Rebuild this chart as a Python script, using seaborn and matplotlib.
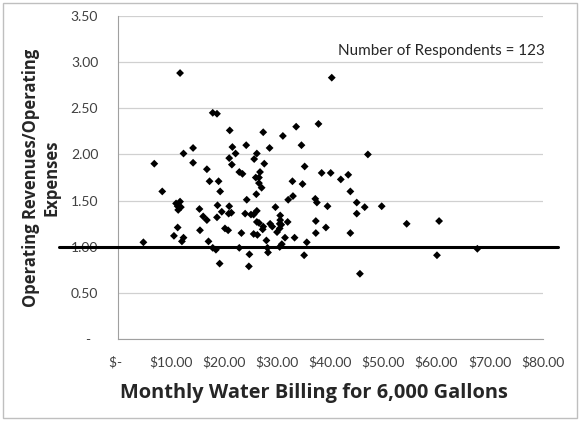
import pandas as pd
import matplotlib
matplotlib.use("Agg")
import matplotlib.pyplot as plt
import seaborn as sns

# monthly bill for 6,000 gallons ($) and operating revenue / operating expense ratio
billing = [4.85, 6.9, 8.4, 10.6, 11.0, 11.75, 11.3, 11.9, 11.4, 11.3,
           12.4, 12.1, 11.75, 12.4, 14.2, 14.2, 15.4, 15.5, 16.1, 16.8,
           17.1, 16.8, 17.3, 17.9, 18.7, 19.0, 19.3, 18.8, 19.6, 18.7,
           17.9, 18.5, 19.2, 20.2, 20.8, 20.9, 21.4, 21.0, 21.1, 21.6,
           21.0, 21.5, 22.2, 22.9, 23.5, 24.2, 25.7, 26.2, 26.8, 26.0,
           26.6, 26.6, 27.1, 26.1, 27.4, 27.6, 28.6, 24.3, 22.9, 23.3,
           24.0, 25.1, 25.6, 26.2, 24.8, 24.7, 26.2, 26.6, 25.6, 26.3,
           27.4, 27.3, 28.7, 29.1, 28.2, 28.3, 29.7, 30.0, 30.6, 30.6,
           30.5, 30.8, 30.9, 31.5, 32.0, 33.3, 32.1, 33.0, 32.9, 34.8,
           35.2, 31.1, 33.6, 34.6, 37.8, 40.3, 38.4, 40.1, 42.0, 43.4,
           43.8, 37.2, 37.5, 39.5, 45.0, 46.5, 49.7, 47.1, 37.3, 39.2,
           37.3, 45.0, 43.8, 54.4, 60.5, 35.6, 35.1, 60.1, 67.7, 45.6,
           30.5, 30.5, 28.0]
ratio = [1.05, 1.90, 1.60, 1.12, 1.47, 1.49, 1.44, 1.43, 1.40, 1.21,
         1.10, 1.06, 2.88, 2.01, 2.07, 1.91, 1.41, 1.18, 1.33, 1.29,
         1.06, 1.84, 1.71, 2.45, 2.44, 1.71, 1.60, 1.45, 1.38, 1.32,
         0.99, 0.97, 0.82, 1.20, 1.18, 1.36, 1.37, 1.44, 2.26, 2.08,
         1.96, 1.89, 2.01, 1.81, 1.79, 2.10, 1.95, 2.01, 1.81, 1.75,
         1.75, 1.69, 1.64, 1.57, 2.24, 1.90, 2.07, 1.51, 0.99, 1.15,
         1.36, 1.35, 1.35, 1.39, 0.92, 0.79, 1.27, 1.26, 1.14, 1.13,
         1.22, 1.19, 1.25, 1.22, 0.99, 0.94, 1.43, 1.16, 1.34, 1.29,
         1.25, 1.24, 1.03, 1.10, 1.27, 1.10, 1.51, 1.55, 1.71, 1.68,
         1.87, 2.20, 2.30, 2.10, 2.33, 2.83, 1.80, 1.80, 1.73, 1.78,
         1.60, 1.52, 1.48, 1.44, 1.48, 1.43, 1.44, 2.00, 1.28, 1.21,
         1.15, 1.36, 1.15, 1.25, 1.28, 1.05, 0.91, 0.91, 0.98, 0.71,
         1.20, 1.00, 1.07]

x_ticks = [0, 10, 20, 30, 40, 50, 60, 70, 80]
x_labels = ["$- ", "$10.00", "$20.00", "$30.00", "$40.00", "$50.00", "$60.00", "$70.00", "$80.00"]
y_ticks = [0, 0.5, 1.0, 1.5, 2.0, 2.5, 3.0, 3.5]
y_labels = ["-  ", "0.50", "1.00", "1.50", "2.00", "2.50", "3.00", "3.50"]
breakeven = 1.0
n_resp = 123

df = pd.DataFrame({"billing": billing, "ratio": ratio})

sns.set_style("white")
plt.rcParams["font.family"] = ["Lato", "DejaVu Sans"]

fig = plt.figure(figsize=(5.8, 4.21), dpi=100)
ax = fig.add_axes([0.2028, 0.1938, 0.7329, 0.7689])

# chart border
fig.patches.append(plt.Rectangle((0.006, 0.007), 0.988, 0.986, transform=fig.transFigure,
                                 fill=False, edgecolor="#bfbfbf", linewidth=1))

sns.scatterplot(data=df, x="billing", y="ratio", marker="D", s=16, color="black",
                edgecolor="none", ax=ax, zorder=3)

ax.set_xlim(0, 80)
ax.set_ylim(0, 3.5)
ax.set_xticks(x_ticks)
ax.set_xticklabels(x_labels, fontsize=10, color="#404040")
ax.set_yticks(y_ticks)
ax.set_yticklabels(y_labels, fontsize=10, color="#404040")
ax.tick_params(axis="both", length=4, width=0.8, color="#a0a0a0", direction="out")
ax.tick_params(axis="x", pad=8)
ax.tick_params(axis="y", pad=10)

ax.yaxis.grid(True, color="#d0d0d0", linewidth=0.9)
ax.set_axisbelow(True)
for side in ["top", "right"]:
    ax.spines[side].set_visible(False)
for side in ["left", "bottom"]:
    ax.spines[side].set_color("#a0a0a0")
    ax.spines[side].set_linewidth(0.8)

# break-even line, runs past the plot area like in the source
ax.axhline(breakeven, xmin=-0.1386, xmax=1.035, color="black", linewidth=2.2, clip_on=False, zorder=4)

ax.text(1.005, 0.892, f"Number of Respondents = {n_resp}", transform=ax.transAxes,
        ha="right", va="center", fontsize=11, color="#262626")

ax.set_xlabel("Monthly Water Billing for 6,000 Gallons", fontsize=14.4, fontweight="bold",
              family=["Open Sans", "DejaVu Sans"], va="center")
ax.xaxis.set_label_coords(0.462, -0.165)
ax.set_ylabel("Operating Revenues/Operating\nExpenses", fontsize=12, fontweight="bold",
              family=["Open Sans", "DejaVu Sans"], va="center", linespacing=1.2)
ax.yaxis.set_label_coords(-0.18, 0.5)

fig.savefig("out.png", dpi=100)
